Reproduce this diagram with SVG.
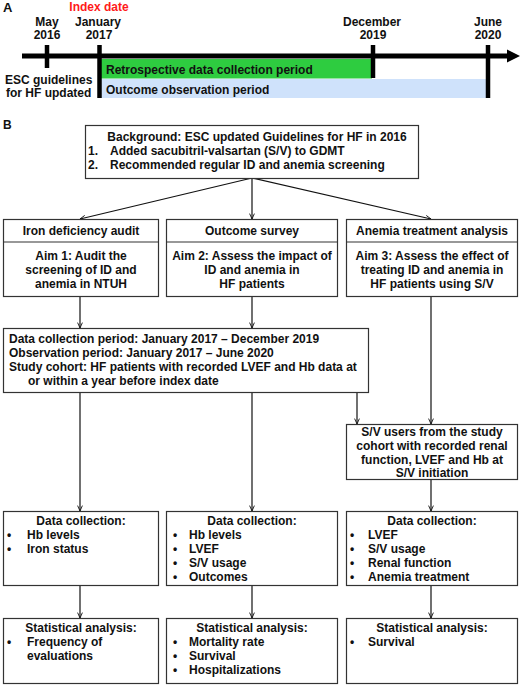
<svg xmlns="http://www.w3.org/2000/svg" width="521" height="685" viewBox="0 0 521 685">
<defs>
<style>
text{font-family:"Liberation Sans",Arial,sans-serif;font-weight:bold;font-size:12px;fill:#111}
.c{text-anchor:middle}
.box{fill:#fff;stroke:#333;stroke-width:1.2}
.conn{fill:none;stroke:#111;stroke-width:1.2}
.tl{stroke:#000;stroke-width:5}
.tick{stroke:#000;stroke-width:4.5}
</style>
<marker id="ah" viewBox="0 0 10 10" refX="10" refY="5" markerWidth="6" markerHeight="6" markerUnits="userSpaceOnUse" orient="auto">
<path d="M1,1 L10,5 L1,9" fill="none" stroke="#111" stroke-width="1.5"/>
</marker>
</defs>
<rect width="521" height="685" fill="#fff"/>

<!-- Panel A -->
<g id="panelA">
<text x="3" y="12" style="font-size:13px">A</text>
<rect x="101" y="59" width="271" height="19.5" fill="#2ecc40"/>
<rect x="101" y="79" width="386" height="19" fill="#cfe2fb"/>
<line class="tl" x1="22" y1="56" x2="510" y2="56"/>
<polygon points="507,49.5 520,56 507,62.5" fill="#000"/>
<line class="tick" x1="47" y1="45" x2="47" y2="68"/>
<line class="tick" x1="99.5" y1="45" x2="99.5" y2="98"/>
<line class="tick" x1="373" y1="45" x2="373" y2="78"/>
<line class="tick" x1="488" y1="45" x2="488" y2="98"/>
<text class="c" x="99" y="11" style="fill:#ff1a1a">Index date</text>
<text class="c" x="47" y="26">May</text>
<text class="c" x="47" y="39">2016</text>
<text class="c" x="98" y="26">January</text>
<text class="c" x="99" y="39">2017</text>
<text class="c" x="372" y="26">December</text>
<text class="c" x="373" y="39">2019</text>
<text class="c" x="488" y="26">June</text>
<text class="c" x="488" y="39">2020</text>
<text x="5" y="84">ESC guidelines</text>
<text x="6" y="97">for HF updated</text>
<text x="106" y="74">Retrospective data collection period</text>
<text x="106" y="94">Outcome observation period</text>
</g>

<!-- Panel B -->
<text x="3" y="129">B</text>

<g id="connectors">
<line class="conn" x1="252" y1="178" x2="80" y2="219" marker-end="url(#ah)"/>
<line class="conn" x1="252" y1="178" x2="252" y2="219" marker-end="url(#ah)"/>
<line class="conn" x1="252" y1="178" x2="431" y2="219" marker-end="url(#ah)"/>
<line class="conn" x1="80" y1="297" x2="80" y2="328" marker-end="url(#ah)"/>
<line class="conn" x1="252" y1="297" x2="252" y2="328" marker-end="url(#ah)"/>
<line class="conn" x1="431" y1="297" x2="431" y2="424" marker-end="url(#ah)"/>
<line class="conn" x1="357" y1="392" x2="357" y2="424" marker-end="url(#ah)"/>
<line class="conn" x1="80" y1="392" x2="80" y2="511" marker-end="url(#ah)"/>
<line class="conn" x1="252" y1="392" x2="252" y2="511" marker-end="url(#ah)"/>
<line class="conn" x1="431" y1="479" x2="431" y2="511" marker-end="url(#ah)"/>
<line class="conn" x1="80" y1="585" x2="80" y2="618" marker-end="url(#ah)"/>
<line class="conn" x1="252" y1="585" x2="252" y2="618" marker-end="url(#ah)"/>
<line class="conn" x1="431" y1="585" x2="431" y2="618" marker-end="url(#ah)"/>
</g>

<g id="background">
<rect class="box" x="85.5" y="125.5" width="333" height="53"/>
<text class="c" x="257" y="141">Background: ESC updated Guidelines for HF in 2016</text>
<text x="88" y="155">1.</text><text x="110" y="155">Added sacubitril-valsartan (S/V) to GDMT</text>
<text x="88" y="169">2.</text><text x="110" y="169">Recommended regular ID and anemia screening</text>
</g>

<g id="aim1">
<rect class="box" x="3.5" y="219.5" width="155" height="77"/>
<line class="box" x1="3.5" y1="242" x2="158.5" y2="242"/>
<text class="c" x="81" y="235">Iron deficiency audit</text>
<text class="c" x="81" y="260">Aim 1: Audit the</text>
<text class="c" x="81" y="274">screening of ID and</text>
<text class="c" x="81" y="288">anemia in NTUH</text>
</g>

<g id="aim2">
<rect class="box" x="166.5" y="219.5" width="171" height="77"/>
<line class="box" x1="166.5" y1="242" x2="337.5" y2="242"/>
<text class="c" x="252" y="235">Outcome survey</text>
<text class="c" x="252" y="260">Aim 2: Assess the impact of</text>
<text class="c" x="252" y="274">ID and anemia in</text>
<text class="c" x="252" y="288">HF patients</text>
</g>

<g id="aim3">
<rect class="box" x="346.5" y="219.5" width="171" height="77"/>
<line class="box" x1="346.5" y1="242" x2="517.5" y2="242"/>
<text class="c" x="432" y="235">Anemia treatment analysis</text>
<text class="c" x="432" y="260">Aim 3: Assess the effect of</text>
<text class="c" x="432" y="274">treating ID and anemia in</text>
<text class="c" x="432" y="288">HF patients using S/V</text>
</g>

<g id="cohort">
<rect class="box" x="3.5" y="328.5" width="365" height="64"/>
<text x="9" y="343">Data collection period: January 2017 – December 2019</text>
<text x="9" y="357">Observation period: January 2017 – June 2020</text>
<text x="9" y="371">Study cohort: HF patients with recorded LVEF and Hb data at</text>
<text x="28" y="385">or within a year before index date</text>
</g>

<g id="svusers">
<rect class="box" x="346.5" y="424.5" width="171" height="55"/>
<text class="c" x="432" y="436">S/V users from the study</text>
<text class="c" x="432" y="450">cohort with recorded renal</text>
<text class="c" x="432" y="464">function, LVEF and Hb at</text>
<text class="c" x="432" y="477">S/V initiation</text>
</g>

<g id="dc1">
<rect class="box" x="3.5" y="511.5" width="155" height="74"/>
<text class="c" x="81" y="525">Data collection:</text>
<text x="7" y="539">•</text><text x="27" y="539">Hb levels</text>
<text x="7" y="553">•</text><text x="27" y="553">Iron status</text>
</g>

<g id="dc2">
<rect class="box" x="166.5" y="511.5" width="171" height="74"/>
<text class="c" x="252" y="525">Data collection:</text>
<text x="173" y="539">•</text><text x="189" y="539">Hb levels</text>
<text x="173" y="553">•</text><text x="189" y="553">LVEF</text>
<text x="173" y="567">•</text><text x="189" y="567">S/V usage</text>
<text x="173" y="581">•</text><text x="189" y="581">Outcomes</text>
</g>

<g id="dc3">
<rect class="box" x="346.5" y="511.5" width="171" height="74"/>
<text class="c" x="432" y="525">Data collection:</text>
<text x="350" y="539">•</text><text x="368" y="539">LVEF</text>
<text x="350" y="553">•</text><text x="368" y="553">S/V usage</text>
<text x="350" y="567">•</text><text x="368" y="567">Renal function</text>
<text x="350" y="581">•</text><text x="368" y="581">Anemia treatment</text>
</g>

<g id="sa1">
<rect class="box" x="3.5" y="618.5" width="155" height="65"/>
<text class="c" x="81" y="632">Statistical analysis:</text>
<text x="7" y="646">•</text><text x="27" y="646">Frequency of</text>
<text x="27" y="660">evaluations</text>
</g>

<g id="sa2">
<rect class="box" x="166.5" y="618.5" width="171" height="65"/>
<text class="c" x="252" y="632">Statistical analysis:</text>
<text x="173" y="646">•</text><text x="189" y="646">Mortality rate</text>
<text x="173" y="660">•</text><text x="189" y="660">Survival</text>
<text x="173" y="674">•</text><text x="189" y="674">Hospitalizations</text>
</g>

<g id="sa3">
<rect class="box" x="346.5" y="618.5" width="171" height="65"/>
<text class="c" x="432" y="632">Statistical analysis:</text>
<text x="350" y="646">•</text><text x="368" y="646">Survival</text>
</g>
</svg>
